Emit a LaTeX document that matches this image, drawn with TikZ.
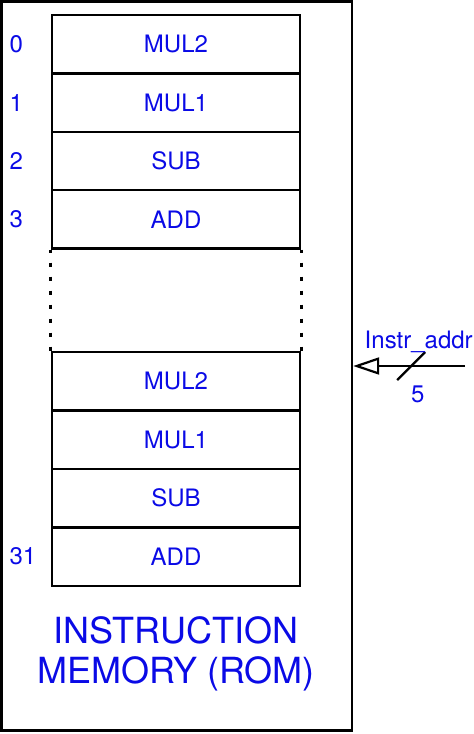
\documentclass[tikz,border=0pt]{standalone}
\usepackage{fontspec}
\setmainfont{TeX Gyre Heros}
\usetikzlibrary{arrows.meta,positioning}
\definecolor{romblue}{RGB}{10,10,230}

\begin{document}
\begin{tikzpicture}[x=1pt, y=1pt, node distance=58.4pt,
    cell/.style={draw, line width=2.4pt, minimum width=248pt, minimum height=58.4pt,
                 inner sep=0pt, text=romblue, font=\fontsize{24}{28}\selectfont},
    addr/.style={anchor=west, xshift=9pt, inner sep=0pt, text=romblue,
                 font=\fontsize{24}{28}\selectfont},
    sig/.style={inner sep=0pt, text=romblue, font=\fontsize{24}{28}\selectfont},
    gap/.style={line width=3pt, dash pattern=on 4.5pt off 9.5pt, dash phase=1pt}]
  \useasboundingbox (0,0) rectangle (474,-734);

  \node[draw, line width=2.4pt, minimum width=350.5pt, minimum height=729pt,
        inner sep=0pt] (rom) at (176.75,-366) {};

  \node[cell] (cell0) at (176,-44.1)                         {MUL2};
  \node[cell] (cell1) [below of=cell0]                       {MUL1};
  \node[cell] (cell2) [below of=cell1]                       {SUB};
  \node[cell] (cell3) [below of=cell2]                       {ADD};
  \node[cell] (cell4) [node distance=162pt, below of=cell3]  {MUL2};
  \node[cell] (cell5) [below of=cell4]                       {MUL1};
  \node[cell] (cell6) [below of=cell5]                       {SUB};
  \node[cell] (cell7) [below of=cell6]                       {ADD};

  \node[addr] (a0)  at (cell0.west -| rom.west) {0};
  \node[addr] (a1)  at (cell1.west -| rom.west) {1};
  \node[addr] (a2)  at (cell2.west -| rom.west) {2};
  \node[addr] (a3)  at (cell3.west -| rom.west) {3};
  \node[addr] (a31) at (cell7.west -| rom.west) {31};

  \draw[gap] (cell3.south west) -- (cell4.north west);
  \draw[gap] (cell3.south east) -- (cell4.north east);

  \node[sig, font=\fontsize{36}{40}\selectfont, align=center, below=29pt of cell7] (title)
       {INSTRUCTION\\MEMORY (ROM)};

  % address input bus
  \coordinate[right=112pt of rom.east] (addr_in);
  \coordinate[right=58pt of rom.east]  (bus);
  \draw[line width=2.2pt, -{Triangle[open, length=26pt, width=17pt, line width=2.2pt]}]
       (addr_in) -- (rom.east);
  \draw[line width=2.2pt] ([shift={(-14pt,-14pt)}]bus) -- ([shift={(14pt,14pt)}]bus);
  \node[sig, anchor=base] (addr_name)  at ([shift={(7.5pt,18pt)}]bus)  {Instr\_addr};
  \node[sig, anchor=base] (addr_width) at ([shift={(6.5pt,-36pt)}]bus) {5};
\end{tikzpicture}
\end{document}
